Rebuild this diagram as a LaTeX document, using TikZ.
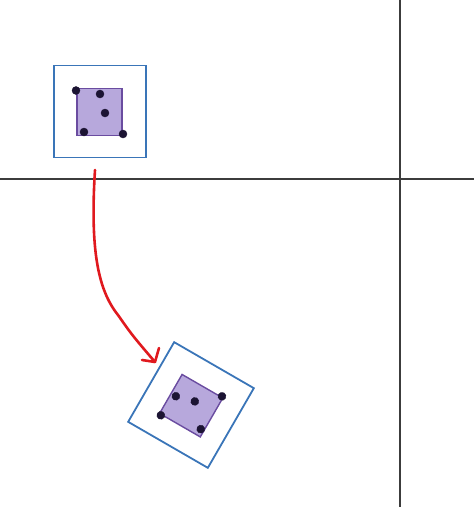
\documentclass[tikz,border=0pt]{standalone}
\usetikzlibrary{positioning}
\definecolor{frameblue}{RGB}{58,117,184}
\definecolor{cubeline}{RGB}{106,76,160}
\definecolor{cubefill}{RGB}{183,168,220}
\definecolor{dotink}{RGB}{28,20,51}
\definecolor{penred}{RGB}{224,25,30}
\definecolor{axisgray}{RGB}{60,60,60}
\begin{document}
\begin{tikzpicture}[x=1pt,y=-1pt,
    axisline/.style={axisgray,line width=1.4pt},
    outerbox/.style={frameblue,line width=1.8pt},
    innerbox/.style={cubeline,fill=cubefill,line width=1.4pt},
    pip/.style={dotink},
    penarrow/.style={penred,line width=2.6pt,line cap=round,line join=round}]
    \useasboundingbox (0,0) rectangle (474,507);
    % axes
    \draw[axisline] (0,179) -- (474,179);
    \draw[axisline] (400,0) -- (400,507);
    % original piece and its rotated copy
    \foreach \cx/\cy/\ang in {100/111.5/0, 191/405/60}{
        \begin{scope}[shift={(\cx,\cy)},rotate=\ang]
            \draw[outerbox] (-46,-46) rectangle (46,46);
            \filldraw[innerbox] (-23,-23) rectangle (22,24);
            \filldraw[pip] (-24,-21) circle (4);
            \filldraw[pip] (0,-17.5) circle (4);
            \filldraw[pip] (5,1.5) circle (4);
            \filldraw[pip] (-16,20.5) circle (4);
            \filldraw[pip] (23,22.5) circle (4);
        \end{scope}
    }
    % red arrow
    \coordinate (start) at (95,170);
    \coordinate (tip) at (155,362);
    \draw[penarrow] (start) .. controls (90,250) and (98,290) .. (118,315)
        .. controls (132,335) .. (tip);
    \draw[penarrow] (tip) ++(4,-14) -- (tip) -- ++(-13,-2);
\end{tikzpicture}
\end{document}
